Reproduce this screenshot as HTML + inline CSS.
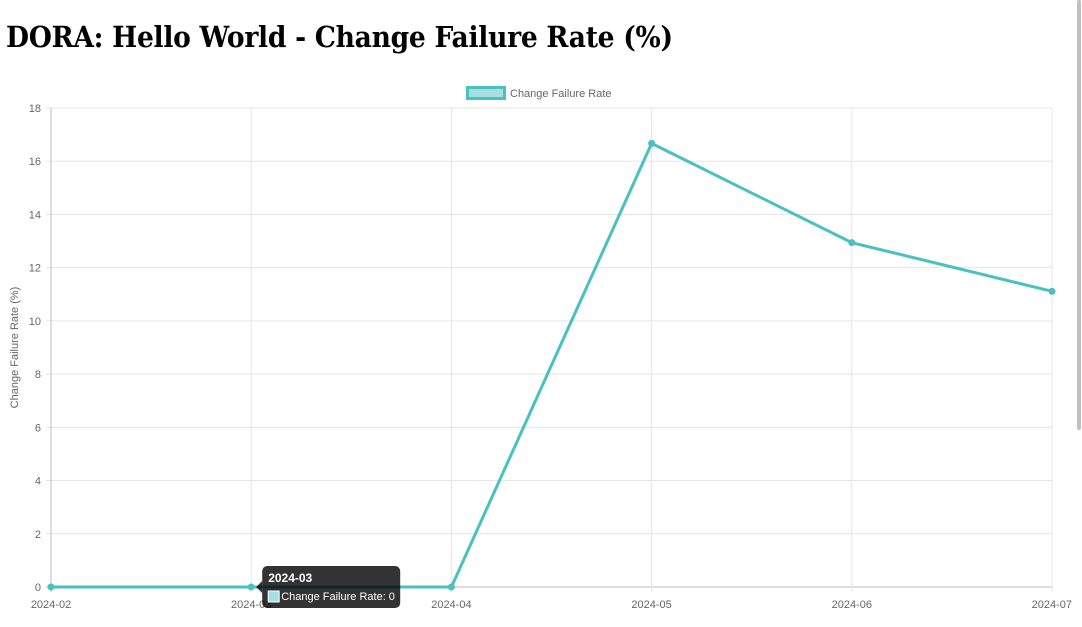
<!DOCTYPE html>
<html><head><meta charset="utf-8"><style>
body{margin:0;width:1082px;height:627px;overflow:hidden;background:#fff;font-family:"Liberation Sans",sans-serif}
h1{position:absolute;left:6px;top:20px;margin:0;font-family:"DejaVu Serif","Liberation Serif",serif;font-weight:bold;font-size:29px;color:#000;letter-spacing:-0.3px;transform:scaleX(0.915);transform-origin:0 0;white-space:nowrap}
#sb{position:absolute;left:1077px;top:0;width:4px;height:430px;background:#c1c1c1;border-radius:2px}
</style></head><body>
<h1>DORA: Hello World - Change Failure Rate (%)</h1>
<div id="sb"></div>
<svg id="c" width="1082" height="627" style="position:absolute;left:0;top:0"></svg>
<script>
const categories=["2024-02","2024-03","2024-04","2024-05","2024-06","2024-07"];
const values=[0,0,0,16.67,12.94,11.11];
const yTicks=[0,2,4,6,8,10,12,14,16,18];
const NS="http://www.w3.org/2000/svg",svg=document.getElementById('c');
const L=51,R=1052,T=108,B=587,yMax=18;
const x=i=>L+i*(R-L)/(categories.length-1);
const y=v=>B-v*(B-T)/yMax;
function mk(t,a,p){const e=document.createElementNS(NS,t);for(const k in a)e.setAttribute(k,a[k]);(p||svg).appendChild(e);return e;}
yTicks.forEach(v=>{
 const g=mk('line',{x1:L-5,x2:R,y1:y(v),y2:y(v),stroke:v===0?'#bbb':'#e5e5e5','stroke-width':1});
 
 
 const t=mk('text',{x:L-10,y:y(v)+4,'text-anchor':'end','font-size':11,fill:'#666'});t.textContent=v;
 
 
});
categories.forEach((c,i)=>{
 const g=mk('line',{x1:x(i),x2:x(i),y1:T,y2:B+5,stroke:i===0?'#bbb':'#e5e5e5','stroke-width':1});
 
 
 const last=i===categories.length-1;
 const t=mk('text',{x:last?x(i)+20:x(i),y:B+21,'text-anchor':last?'end':'middle','font-size':11,fill:'#666'});t.textContent=c;
 
 
});
const yt=mk('text',{x:18,y:(T+B)/2,'text-anchor':'middle','font-size':11,fill:'#666',transform:`rotate(-90 18 ${(T+B)/2})`});yt.textContent='Change Failure Rate (%)';


const ln=mk('polyline',{points:values.map((v,i)=>x(i)+','+y(v)).join(' '),fill:'none',stroke:'#4bc0c0','stroke-width':3,'stroke-linejoin':'round'});


values.forEach((v,i)=>{const p=mk('circle',{cx:x(i),cy:y(v),r:3,fill:'#4bc0c0',stroke:'#4bc0c0'});
 
 });
const lg=mk('g',{});


mk('rect',{x:467.5,y:87.5,width:37,height:11,fill:'#a5dfdf',stroke:'#4bc0c0','stroke-width':3},lg);
const lt=mk('text',{x:510,y:97,'font-size':11,fill:'#666'},lg);lt.textContent='Change Failure Rate';
const tg=mk('g',{});


const tx=x(1),ty=y(values[1]);
mk('path',{d:`M${tx+5} ${ty} L${tx+11} ${ty-6} L${tx+11} ${ty+6} Z`,fill:'rgba(0,0,0,0.8)'},tg);
mk('rect',{x:tx+11,y:566,width:138,height:42,rx:5,fill:'rgba(0,0,0,0.8)'},tg);
const t1=mk('text',{x:tx+17,y:582,'font-size':12,'font-weight':'bold',fill:'#fff'},tg);t1.textContent=categories[1];
mk('rect',{x:tx+17,y:591,width:11,height:11,fill:'#a5dfdf',stroke:'#fff','stroke-width':1},tg);
const t2=mk('text',{x:tx+30,y:600,'font-size':11,fill:'#fff'},tg);t2.textContent='Change Failure Rate: '+values[1];
</script>
</body></html>
